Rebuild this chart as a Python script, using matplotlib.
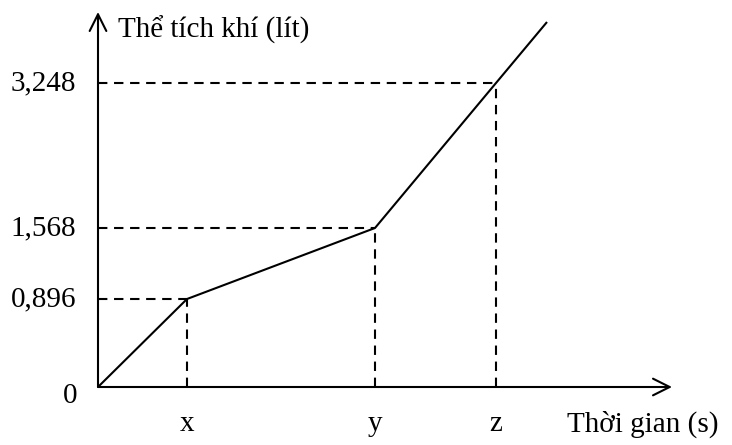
import matplotlib
matplotlib.use('Agg')
import matplotlib.pyplot as plt

plt.rcParams['font.family'] = ['Liberation Serif', 'DejaVu Serif']

# vị trí các điểm trên hình (đơn vị sơ đồ, không theo tỉ lệ thật)
t_pos = [0, 0.89, 2.77, 3.98, 4.49]
v_pos = [0, 0.88, 1.59, 3.04, 3.65]
t_labels = ['x', 'y', 'z']
v_labels = ['0,896', '1,568', '3,248']

fig = plt.figure(figsize=(7.32, 4.45), dpi=100)
ax = fig.add_axes([0, 0, 1, 1])
ax.set_xlim(-0.98, 6.34)
ax.set_ylim(-0.58, 3.87)
ax.axis('off')

fs = 21
lw = 1.5

# trục
ax.annotate('', xy=(5.74, 0), xytext=(0, 0),
            arrowprops=dict(arrowstyle='->', lw=lw, color='black',
                            mutation_scale=30, shrinkA=0, shrinkB=0))
ax.annotate('', xy=(0, 3.75), xytext=(0, 0),
            arrowprops=dict(arrowstyle='->', lw=lw, color='black',
                            mutation_scale=30, shrinkA=0, shrinkB=0))

# đường gióng nét đứt
for i in range(1, 4):
    ax.plot([0, t_pos[i]], [v_pos[i], v_pos[i]], color='black', lw=lw,
            dashes=(4.5, 3.2))
    ax.plot([t_pos[i], t_pos[i]], [0, v_pos[i]], color='black', lw=lw,
            dashes=(4.5, 3.2))

# đồ thị
ax.plot(t_pos, v_pos, color='black', lw=lw, solid_capstyle='butt')

# nhãn
for i in range(3):
    ax.text(-0.22, v_pos[i + 1], v_labels[i], fontsize=fs, ha='right', va='center')
    ax.text(t_pos[i + 1], -0.37, t_labels[i], fontsize=fs, ha='center', va='center')
ax.text(-0.28, -0.09, '0', fontsize=fs, ha='center', va='center')
ax.text(0.2, 3.57, 'Thể tích khí (lít)', fontsize=fs, ha='left', va='center')
ax.text(4.69, -0.37, 'Thời gian (s)', fontsize=fs, ha='left', va='center')

fig.savefig('out.png', dpi=100)
